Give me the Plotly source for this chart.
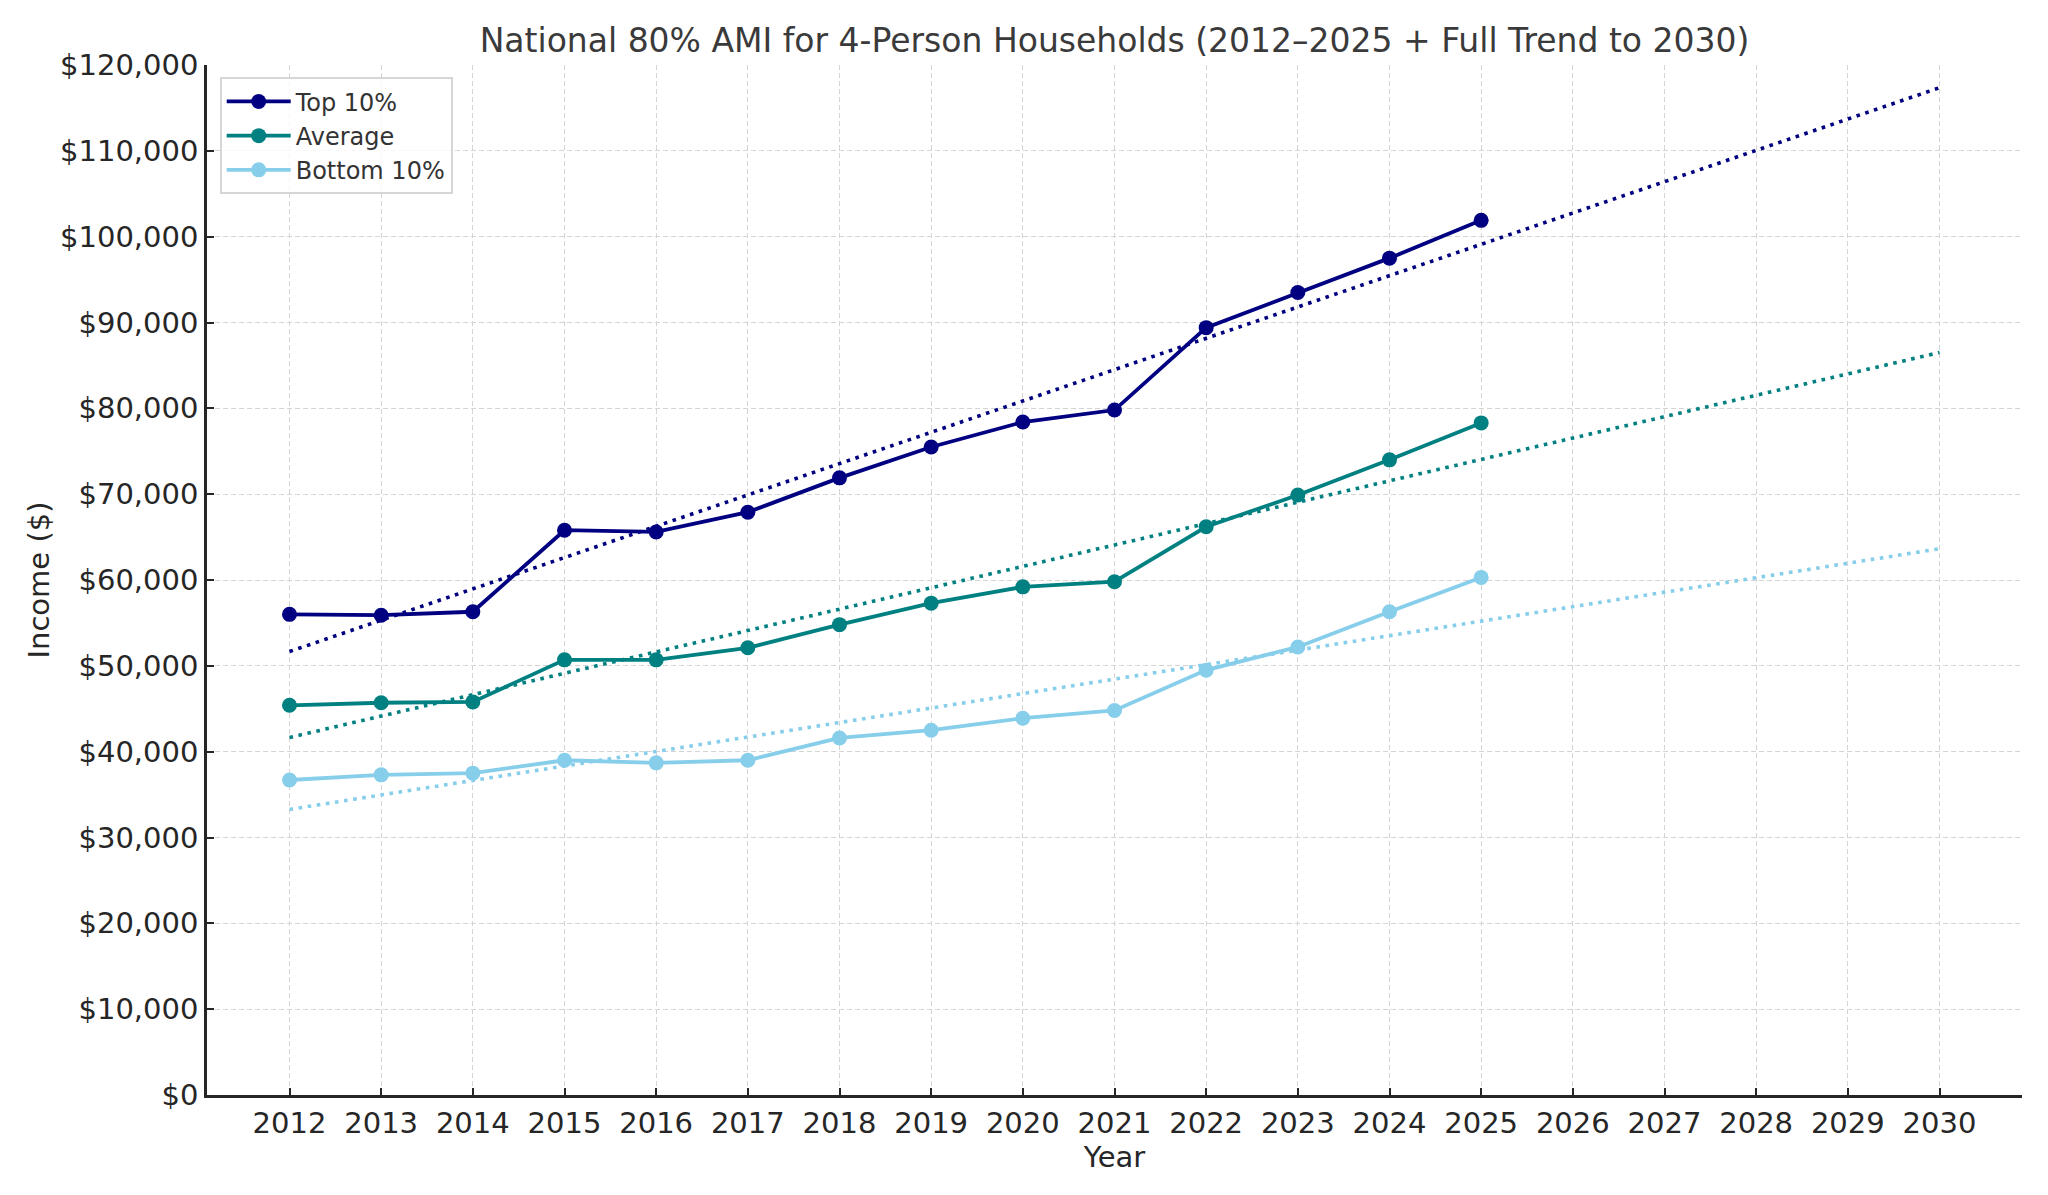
import numpy as np
import plotly.graph_objects as go

years = list(range(2012, 2026))
trend_years = list(range(2012, 2031))

top_10 = [56000, 55900, 56300, 65800, 65600, 67900, 71900,
          75500, 78400, 79800, 89400, 93500, 97500, 101900]
average = [45400, 45700, 45800, 50700, 50700, 52100, 54800,
           57300, 59200, 59800, 66200, 69900, 74000, 78300]
bottom_10 = [36700, 37300, 37500, 39000, 38700, 39000, 41600,
             42500, 43900, 44800, 49500, 52200, 56300, 60300]

series = [
    ("Top 10%", top_10, "#000080"),
    ("Average", average, "#008080"),
    ("Bottom 10%", bottom_10, "#87CEEB"),
]

font_family = "DejaVu Sans"

fig = go.Figure()

for name, values, color in series:
    fig.add_trace(go.Scatter(
        x=years, y=values, name=name, mode="lines+markers",
        line=dict(color=color, width=3.8),
        marker=dict(color=color, size=15),
    ))
    # linear trend fitted on 2012-2025, extended to 2030
    slope, intercept = np.polyfit(years, values, 1)
    trend = [slope * yr + intercept for yr in trend_years]
    fig.add_trace(go.Scatter(
        x=trend_years, y=trend, mode="lines", showlegend=False,
        line=dict(color=color, width=3.6, dash="3.6px,5.6px"),
        hoverinfo="skip",
    ))

fig.update_layout(
    width=2048, height=1195,
    margin=dict(l=199, r=34, t=57, b=108),
    paper_bgcolor="white", plot_bgcolor="white",
    font=dict(family=font_family, size=29, color="#262626"),
    title=dict(
        text="National 80% AMI for 4-Person Households (2012–2025 + Full Trend to 2030)",
        x=0.5, xref="paper", xanchor="center",
        y=1 - 32 / 1195, yanchor="middle",
        font=dict(size=33, color="#3a3a3a"),
    ),
    legend=dict(
        x=0.007, y=0.988, xanchor="left", yanchor="top",
        bgcolor="rgba(255,255,255,0.8)", bordercolor="#d6d6d6", borderwidth=2,
        font=dict(size=24, color="#333333"), itemwidth=64,
    ),
)

fig.update_xaxes(
    range=[2011.1, 2030.9], tickmode="linear", tick0=2012, dtick=1,
    showline=True, linecolor="#262626", linewidth=2.5, mirror=False,
    ticks="inside", ticklen=7, tickwidth=2, tickcolor="#262626",
    showgrid=True, gridcolor="#d4d4d4", gridwidth=1.3, griddash="5px,3px",
    zeroline=False,
    title=dict(text="Year", standoff=2, font=dict(size=29)),
)
fig.update_yaxes(
    range=[0, 120000], tickmode="linear", tick0=0, dtick=10000,
    tickformat="$,.0f",
    showline=True, linecolor="#262626", linewidth=2.5, mirror=False,
    ticks="inside", ticklen=7, tickwidth=2, tickcolor="#262626",
    showgrid=True, gridcolor="#d4d4d4", gridwidth=1.3, griddash="5px,3px",
    zeroline=False,
    title=dict(text="Income ($)", standoff=2, font=dict(size=29)),
)

fig.write_html("out.html")
